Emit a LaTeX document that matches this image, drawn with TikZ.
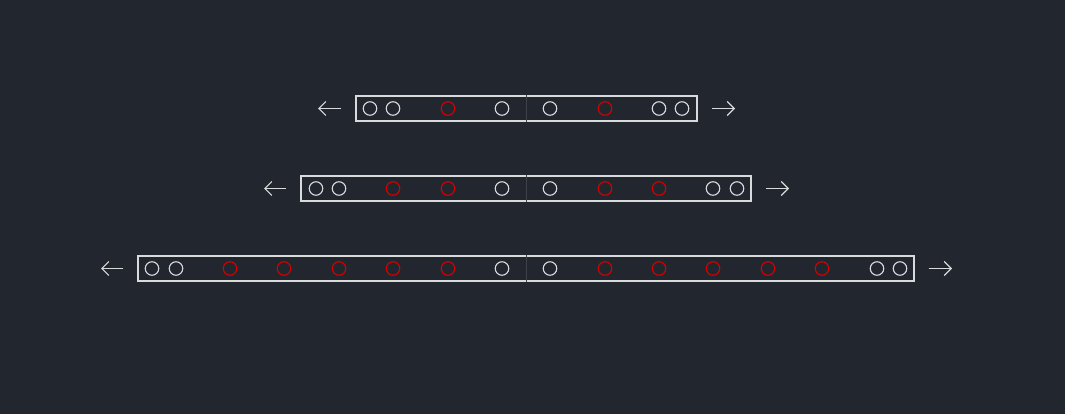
\documentclass[tikz,border=0pt]{standalone}
\usepackage{tikz}
\usetikzlibrary{arrows.meta}
\definecolor{bgdark}{HTML}{22272F}
\definecolor{wire}{HTML}{D8DADC}
\definecolor{hot}{HTML}{D40000}
\begin{document}
\begin{tikzpicture}[x=1pt, y=-1pt, line width=1.15pt,
 bar/.style={rectangle, draw=wire, inner sep=0pt, minimum height=25pt},
 ball/.style={circle, draw=#1, inner sep=0pt, minimum size=13.5pt},
 ball/.default=wire,
 seam/.style={draw=wire!15!bgdark, line width=0.6pt},
 push/.style={-{Straight Barb[length=7pt,width=14pt]}, draw=wire, shorten <=14pt}]

 \fill[bgdark] (0,0) rectangle (1065,414);

 % top row
 \node[bar, minimum width=341pt] (bar1) at (526.5,108.5) {};
 \draw[seam] (bar1.north) -- (bar1.south);
 \foreach \cx/\cc [count=\i] in {370/wire,393/wire,448/hot,502/wire,550/wire,605/hot,659/wire,682/wire}
  \node[ball=\cc] (b1-\i) at (\cx,108.5) {};
 \coordinate (bar1-l) at (318,108.5);
 \coordinate (bar1-r) at (735,108.5);
 \draw[push] (bar1.west) -- (bar1-l);
 \draw[push] (bar1.east) -- (bar1-r);

 % middle row
 \node[bar, minimum width=450pt] (bar2) at (526,188.5) {};
 \draw[seam] (bar2.north) -- (bar2.south);
 \foreach \cx/\cc [count=\i] in {316/wire,339/wire,393/hot,448/hot,502/wire,550/wire,605/hot,659/hot,713/wire,737/wire}
  \node[ball=\cc] (b2-\i) at (\cx,188.5) {};
 \coordinate (bar2-l) at (264,188.5);
 \coordinate (bar2-r) at (789,188.5);
 \draw[push] (bar2.west) -- (bar2-l);
 \draw[push] (bar2.east) -- (bar2-r);

 % bottom row
 \node[bar, minimum width=776pt] (bar3) at (526,268.5) {};
 \draw[seam] (bar3.north) -- (bar3.south);
 \foreach \cx/\cc [count=\i] in {152/wire,176/wire,230/hot,284/hot,339/hot,393/hot,448/hot,502/wire,
   550/wire,605/hot,659/hot,713/hot,768/hot,822/hot,877/wire,900/wire}
  \node[ball=\cc] (b3-\i) at (\cx,268.5) {};
 \coordinate (bar3-l) at (101,268.5);
 \coordinate (bar3-r) at (952,268.5);
 \draw[push] (bar3.west) -- (bar3-l);
 \draw[push] (bar3.east) -- (bar3-r);
\end{tikzpicture}
\end{document}
